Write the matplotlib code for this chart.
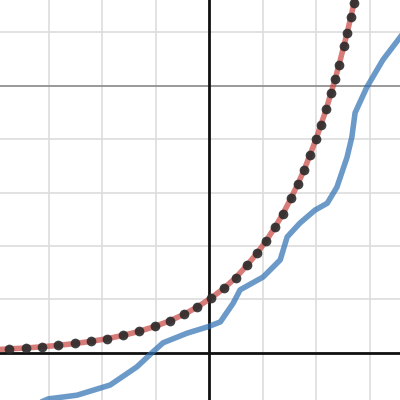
import matplotlib
matplotlib.use("Agg")
import matplotlib.pyplot as plt

dot_x = [-3.74,-3.42,-3.12,-2.82,-2.50,-2.21,-1.91,-1.61,-1.31,-1.01,-0.73,-0.47,-0.22,
         0.04,0.28,0.50,0.71,0.90,1.07,1.23,1.38,1.53,1.66,1.78,1.89,2.00,2.09,2.19,2.28,2.36,2.43,2.52,2.58,2.65,2.71]
dot_y = [0.075,0.093,0.115,0.142,0.177,0.216,0.266,0.328,0.403,0.497,0.603,0.722,0.858,
         1.03,1.21,1.41,1.64,1.87,2.10,2.35,2.60,2.89,3.16,3.43,3.71,4.00,4.26,4.56,4.86,5.13,5.39,5.74,5.98,6.28,6.54]
red_x = [-3.94] + dot_x + [2.9]
red_y = [0.065] + dot_y + [7.46]

blue_x = [-3.10,-3.01,-2.47,-1.85,-1.35,-1.05,-0.86,-0.41,-0.02,0.21,0.45,0.58,1.01,1.33,1.46,1.70,1.98,2.21,2.39,2.58,2.67,2.73,2.95,3.25,3.60]
blue_y = [-0.90,-0.86,-0.79,-0.60,-0.26,0.02,0.19,0.37,0.49,0.58,0.93,1.18,1.42,1.74,2.17,2.43,2.67,2.80,3.10,3.66,4.04,4.49,4.97,5.48,5.94]

fig = plt.figure(figsize=(4,4), dpi=100)
ax = fig.add_axes([0,0,1,1])
ax.set_xlim(-3.91, 3.57)
ax.set_ylim(-0.88, 6.6)
for v in range(-3, 4):
    ax.axvline(v, color='#dddddd', lw=1.2, zorder=0)
for v in range(0, 7):
    ax.axhline(v, color='#888888' if v == 5 else '#dddddd', lw=1.2, zorder=0)
ax.axvline(0, color='#111111', lw=2, zorder=1)
ax.axhline(0, color='#111111', lw=2, zorder=1)
ax.plot(blue_x, blue_y, color='#2d70b3', alpha=0.7, lw=4, solid_joinstyle='round', zorder=2)
ax.plot(red_x, red_y, color='#c74440', alpha=0.7, lw=4, solid_joinstyle='round', zorder=3)
ax.plot(dot_x, dot_y, 'o', color='#2a2a2a', alpha=0.9, ms=7, mec='none', zorder=4)
ax.set_xticks([]); ax.set_yticks([])
for s in ax.spines.values():
    s.set_visible(False)
fig.savefig("out.png", dpi=100)
